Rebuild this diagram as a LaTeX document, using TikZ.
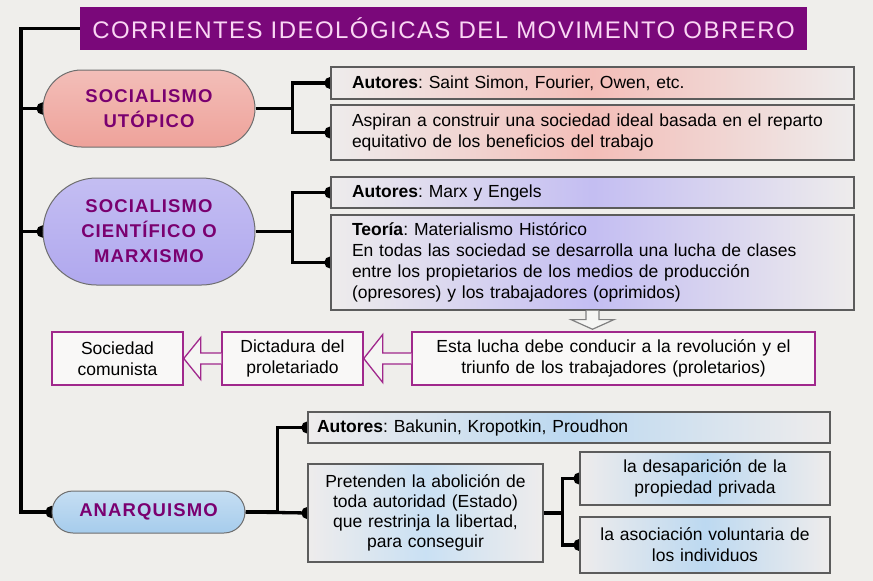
\documentclass[tikz,border=0pt]{standalone}
\usepackage{fontspec}
\setmainfont{Liberation Sans}
\newfontfamily\titlefont[LetterSpace=6]{Liberation Sans}
\newfontfamily\pillfont[LetterSpace=6]{Liberation Sans}
\usepackage{tikz}
\usetikzlibrary{arrows.meta,shapes.misc}
\definecolor{bgcolor}{RGB}{239,238,235}
\definecolor{titlecolor}{RGB}{122,8,122}
\definecolor{titletext}{RGB}{250,214,244}
\definecolor{pilltext}{RGB}{122,0,112}
\definecolor{pillline}{RGB}{110,110,110}
\definecolor{boxline}{RGB}{92,92,92}
\definecolor{boxbg}{RGB}{238,236,236}
\definecolor{utopiacolor}{RGB}{238,162,154}
\definecolor{marxcolor}{RGB}{176,168,238}
\definecolor{anarcolor}{RGB}{166,204,236}
\definecolor{framecolor}{RGB}{160,40,140}
\definecolor{arrowgray}{RGB}{128,128,128}
\pgfdeclarelayer{background}
\pgfsetlayers{background,main}
\frenchspacing

\begin{document}
\begin{tikzpicture}[x=1pt, y=-1pt,
                    pill/.style={rounded rectangle, draw=pillline, line width=1pt, text=pilltext,
                    font=\pillfont\bfseries\fontsize{18.5}{25}\selectfont, align=center, inner sep=0pt},
                    infobox/.style={rectangle, draw=boxline, line width=1.2pt, inner ysep=0pt,
                    font=\fontsize{17.5}{21}\selectfont, left color=boxbg, right color=boxbg},
                    stagebox/.style={rectangle, draw=framecolor, line width=1.5pt, fill=white!60!bgcolor,
                    font=\fontsize{17.5}{21}\selectfont, align=center, text width=#1, inner xsep=8pt,
                    minimum height=53pt},
                    link/.style={line width=3.3pt, -{Circle[length=12pt]}, shorten >=-6pt},
                    hollow/.style={draw=framecolor, line width=1.3pt, fill=white!40!bgcolor}]
    \begin{pgfonlayer}{background}
        \fill [bgcolor] (0,0) rectangle (873,581);
    \end{pgfonlayer}

    \node [fill=titlecolor, text=titletext, font=\titlefont\fontsize{24}{26}\selectfont,
           minimum width=727pt, minimum height=43pt, inner sep=0pt] (title) at (443.5,28.5)
           {CORRIENTES IDEOLÓGICAS DEL MOVIMENTO OBRERO};

    \node [pill, top color=utopiacolor!70, bottom color=utopiacolor, minimum width=212pt,
           minimum height=77pt] (utopia) at (149,108.5) {SOCIALISMO\\UTÓPICO};
    \node [pill, top color=marxcolor!75, bottom color=marxcolor, minimum width=212pt,
           minimum height=107pt] (marx) at (149,231.5) {SOCIALISMO\\CIENTÍFICO O\\MARXISMO};
    \node [pill, top color=anarcolor!65, bottom color=anarcolor, minimum width=193pt,
           minimum height=42pt] (anar) at (148.5,512) {ANARQUISMO};

    \node [infobox, middle color=utopiacolor!70, text width=481pt, inner xsep=21pt, align=left,
           minimum height=32pt] (uautores) at (592.5,83)
           {\textbf{Autores}: Saint Simon, Fourier, Owen, etc.};
    \node [infobox, middle color=utopiacolor!70, text width=481pt, inner xsep=21pt, align=left,
           minimum height=55pt] (uideal) at (592.5,132.5)
           {Aspiran a construir una sociedad ideal basada en el reparto\\equitativo de los beneficios del trabajo};

    \node [infobox, middle color=marxcolor!75, text width=481pt, inner xsep=21pt, align=left,
           minimum height=31pt] (mautores) at (592.5,192.5) {\textbf{Autores}: Marx y Engels};
    \node [infobox, middle color=marxcolor!75, text width=481pt, inner xsep=21pt, align=left,
           minimum height=95pt] (mteoria) at (592.5,262.5)
           {\textbf{Teoría}: Materialismo Histórico\\En todas las sociedad se desarrolla una lucha de clases\\entre los propietarios de los medios de producción\\(opresores) y los trabajadores (oprimidos)};

    \node [stagebox=387pt] (lucha) at (613.5,358.5)
          {Esta lucha debe conducir a la revolución y el\\triunfo de los trabajadores (proletarios)};
    \node [stagebox=125pt] (dictadura) at (292.5,358.5) {Dictadura del\\proletariado};
    \node [stagebox=115pt] (comunista) at (117.5,358.5) {Sociedad\\comunista};

    \node [infobox, middle color=anarcolor!75, text width=504pt, inner xsep=9pt, align=left,
           minimum height=31pt] (aautores) at (569,427.5)
           {\textbf{Autores}: Bakunin, Kropotkin, Proudhon};
    \node [infobox, middle color=anarcolor!60, text width=219pt, inner xsep=8pt, align=center,
           minimum height=98pt, font=\fontsize{17.5}{20}\selectfont] (abolicion) at (425.5,513)
           {Pretenden la abolición de\\toda autoridad (Estado)\\que restrinja la libertad,\\para conseguir};
    \node [infobox, middle color=anarcolor!75, text width=234pt, inner xsep=8pt, align=center,
           minimum height=53pt] (propiedad) at (705,478.5)
           {la desaparición de la\\propiedad privada};
    \node [infobox, middle color=anarcolor!75, text width=234pt, inner xsep=8pt, align=center,
           minimum height=56pt] (asociacion) at (705,545)
           {la asociación voluntaria de\\los individuos};

    \coordinate (spine) at (21,29);

    \begin{pgfonlayer}{background}
        \draw [link] (title.west) -| (spine |- anar.west) -- (anar.west);
        \draw [link] (spine |- utopia.west) -- (utopia.west);
        \draw [link] (spine |- marx.west) -- (marx.west);

        \draw [link] (utopia.east) -- ++(37,0) |- (uautores.west);
        \draw [link] (utopia.east) -- ++(37,0) |- (uideal.west);
        \draw [link] (marx.east) -- ++(37,0) |- (mautores.west);
        \draw [link] (marx.east) -- ++(37,0) |- (mteoria.west);

        \draw [link] (anar.east) -- ++(32,0) |- (aautores.west);
        \draw [link] (anar.east) -- (abolicion.west);
        \draw [link] (abolicion.east) -- ++(19,0) |- (propiedad.west);
        \draw [link] (abolicion.east) -- ++(19,0) |- (asociacion.west);
    \end{pgfonlayer}

    \draw [hollow] ([yshift=5.5pt]lucha.west) -- ([xshift=19pt,yshift=5.5pt]dictadura.east)
        -- ([xshift=19pt,yshift=24pt]dictadura.east) -- (dictadura.east)
        -- ([xshift=19pt,yshift=-24pt]dictadura.east) -- ([xshift=19pt,yshift=-5.5pt]dictadura.east)
        -- ([yshift=-5.5pt]lucha.west);
    \draw [hollow] ([yshift=5.5pt]dictadura.west) -- ([xshift=17pt,yshift=5.5pt]comunista.east)
        -- ([xshift=17pt,yshift=21pt]comunista.east) -- (comunista.east)
        -- ([xshift=17pt,yshift=-21pt]comunista.east) -- ([xshift=17pt,yshift=-5.5pt]comunista.east)
        -- ([yshift=-5.5pt]dictadura.west);
    \draw [hollow, draw=arrowgray, line width=1.2pt] ([xshift=-6.5pt]mteoria.south)
        -- ([xshift=-6.5pt,yshift=-9pt]mteoria.south) -- ([xshift=-21.5pt,yshift=-9pt]mteoria.south)
        -- ([yshift=2pt]mteoria.south |- lucha.north) -- ([xshift=21.5pt,yshift=-9pt]mteoria.south)
        -- ([xshift=6.5pt,yshift=-9pt]mteoria.south) -- ([xshift=6.5pt]mteoria.south);
\end{tikzpicture}
\end{document}
